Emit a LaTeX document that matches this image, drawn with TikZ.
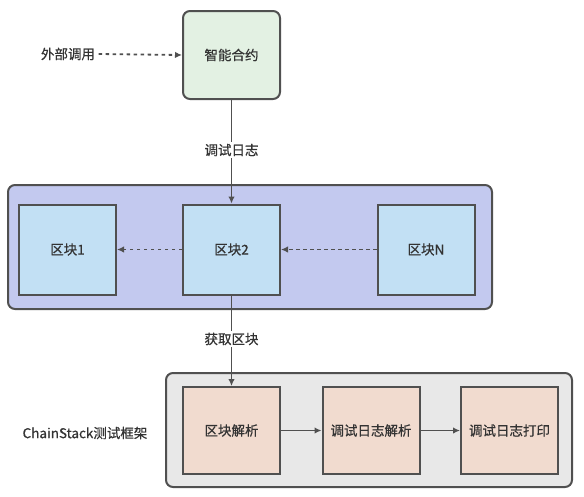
\documentclass[tikz,border=0pt]{standalone}
\usepackage{fontspec}
\setmainfont{Noto Sans CJK SC}[FakeBold=0.6]
\usetikzlibrary{arrows.meta}
\definecolor{linec}{HTML}{505050}
\definecolor{txtc}{HTML}{333333}
\definecolor{greenf}{HTML}{E3F1E3}
\definecolor{outerblue}{HTML}{C3C9EF}
\definecolor{blockblue}{HTML}{C2E0F4}
\definecolor{outergray}{HTML}{E8E8E8}
\definecolor{peach}{HTML}{F1DBCF}
\begin{document}
\begin{tikzpicture}[x=1pt,y=-1pt,
  every node/.style={font=\fontsize{13.5}{15}\selectfont, text=txtc},
  box/.style={draw=linec, line width=2pt, minimum width=97pt, minimum height=88pt, inner sep=0pt},
  container/.style={draw=linec, line width=2pt, rounded corners=7pt},
  conn/.style={draw=linec, line width=1.8pt},
  arr/.style={conn, -{Latex[length=7pt,width=6.5pt]}},
  darr/.style={arr, dash pattern=on 3.5pt off 3.5pt},
  lbl/.style={inner sep=2pt}
]
\useasboundingbox (0,0) rectangle (584,496);
% containers
\draw[container, fill=outerblue] (8,185) rectangle (492,309);
\draw[container, fill=outergray] (166,373) rectangle (572,487);
% top
\node[box, fill=greenf, rounded corners=7pt] (sc) at (231.5,55) {智能合约};
\node (ext) at (68,54) {外部调用};
\draw[darr] (ext.east) -- (sc.west);
% blocks
\node[box, fill=blockblue, minimum height=90pt] (b1) at (67.5,249.5) {区块1};
\node[box, fill=blockblue, minimum height=90pt] (b2) at (231.5,249.5) {区块2};
\node[box, fill=blockblue, minimum height=90pt] (bn) at (426,249.5) {区块N};
\draw[darr] (bn.west) -- (b2.east);
\draw[darr] (b2.west) -- (b1.east);
\node[lbl] (log) at (231.5,150) {调试日志};
\draw[conn] (sc.south) -- (log.north);
\draw[arr] (log.south) -- (b2.north);
% framework
\node[box, fill=peach, minimum height=87pt] (p1) at (231.5,430.5) {区块解析};
\node[box, fill=peach, minimum height=87pt] (p2) at (371,430.5) {调试日志解析};
\node[box, fill=peach, minimum height=87pt] (p3) at (509.5,430.5) {调试日志打印};
\draw[arr] (p1.east) -- (p2.west);
\draw[arr] (p2.east) -- (p3.west);
\node[lbl] (get) at (231.5,339) {获取区块};
\draw[conn] (b2.south) -- (get.north);
\draw[arr] (get.south) -- (p1.north);
\node (cs) at (85,433) {ChainStack测试框架};
\end{tikzpicture}
\end{document}
